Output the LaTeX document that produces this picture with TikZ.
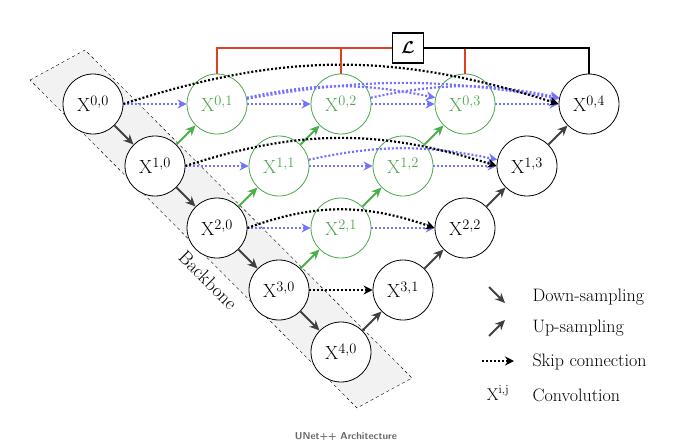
\documentclass[tikz,border=0pt]{standalone}
\usepackage{amsmath,bm}
\usetikzlibrary{arrows.meta,bending}
\begin{document}
\begin{tikzpicture}[x=1pt,y=-1pt,
  nd/.style={circle,draw,thick,minimum size=60pt,inner sep=0pt,font=\fontsize{19}{21}\selectfont},
  gn/.style={nd,draw=green!50!black!70,text=green!50!black!70},
  dn/.style={-{Stealth[length=10pt,width=9pt]},line width=1.8pt,draw=black!75},
  up/.style={dn},
  gup/.style={dn,draw=green!55!black!70},
  sk/.style={line width=2.2pt,dash pattern=on 2pt off 2pt,-{Stealth[length=9pt,width=9pt]}},
  bsk/.style={sk,draw=blue!55!white},
  lbl/.style={font=\fontsize{18}{20}\selectfont,anchor=west}]
\useasboundingbox (0,0) rectangle (693,447);
\fill[black!5,draw=black,dashed] (30,80)--(85,50)--(412,378)--(357,408)--cycle;
\node[rotate=-45,font=\fontsize{19}{21}\selectfont] (bb) at (208,280) {Backbone};
\foreach \i/\j in {0/0,1/0,2/0,3/0,4/0,3/1,2/2,1/3,0/4}
  \node[nd,fill=white] (x\i\j) at ({93+62*\i+124*\j},{104+62*\i}) {X$^{\i,\j}$};
\foreach \i/\j in {0/1,0/2,0/3,1/1,1/2,2/1}
  \node[gn,fill=white] (x\i\j) at ({93+62*\i+124*\j},{104+62*\i}) {X$^{\i,\j}$};
% down
\draw[dn] (x00)--(x10); \draw[dn] (x10)--(x20); \draw[dn] (x20)--(x30); \draw[dn] (x30)--(x40);
% up
\draw[gup] (x10)--(x01); \draw[gup] (x20)--(x11); \draw[gup] (x11)--(x02);
\draw[gup] (x30)--(x21); \draw[gup] (x21)--(x12); \draw[gup] (x12)--(x03);
\draw[up] (x40)--(x31); \draw[up] (x31)--(x22); \draw[up] (x22)--(x13); \draw[up] (x13)--(x04);
% skip straight blue
\draw[bsk] (x00)--(x01); \draw[bsk] (x01)--(x02); \draw[bsk] (x02)--(x03); \draw[bsk] (x03)--(x04);
\draw[bsk] (x10)--(x11); \draw[bsk] (x11)--(x12); \draw[bsk] (x12)--(x13);
\draw[bsk] (x20)--(x21); \draw[bsk] (x21)--(x22);
\draw[sk] (x30)--(x31);
% blue arcs
\draw[bsk] (x01) to[bend left=12] (x03);
\draw[bsk] (x01) to[bend left=10] (x04);
\draw[bsk] (x02) to[bend left=12] (x04);
\draw[bsk] (x11) to[bend left=12] (x13);
% black arcs
\draw[sk] (x00.east) to[bend left=18] (x04.west);
\draw[sk] (x10.east) to[bend left=18] (x13.west);
\draw[sk] (x20.east) to[bend left=20] (x22.west);
% loss
\node[draw,line width=1.8pt,minimum width=31pt,minimum height=30pt,fill=white,font=\fontsize{17}{19}\selectfont] (L) at (408,48) {$\bm{\mathcal{L}}$};
\draw[red!50!brown,line width=1.5pt] (x01.north)|-(L.west);
\draw[red!50!brown,line width=1.5pt] (x02.north)--(x02.north|-L.west);
\draw[red!50!brown,line width=1.5pt] (x03.north)--(x03.north|-L.east);
\draw[line width=1.8pt] (L.east)-|(x04.north);
% legend
\coordinate (a1) at (489,287); \coordinate (b1) at (505,303);
\draw[dn] (a1)--(b1); \node[lbl] (t1) at (529,297) {Down-sampling};
\coordinate (a2) at (489,336); \coordinate (b2) at (505,320);
\draw[dn] (a2)--(b2); \node[lbl] (t2) at (529,328) {Up-sampling};
\coordinate (a3) at (482,361); \coordinate (b3) at (514,361);
\draw[sk] (a3)--(b3); \node[lbl] (t3) at (529,362) {Skip connection};
\node[font=\fontsize{17}{19}\selectfont] (t4) at (498,393) {X$^{\mathrm{i,j}}$};
\node[lbl] (t5) at (529,395) {Convolution};
\node[font=\sffamily\bfseries\fontsize{10}{12}\selectfont,text=black!60] (cap) at (346,437) {UNet++ Architecture};
\end{tikzpicture}
\end{document}
